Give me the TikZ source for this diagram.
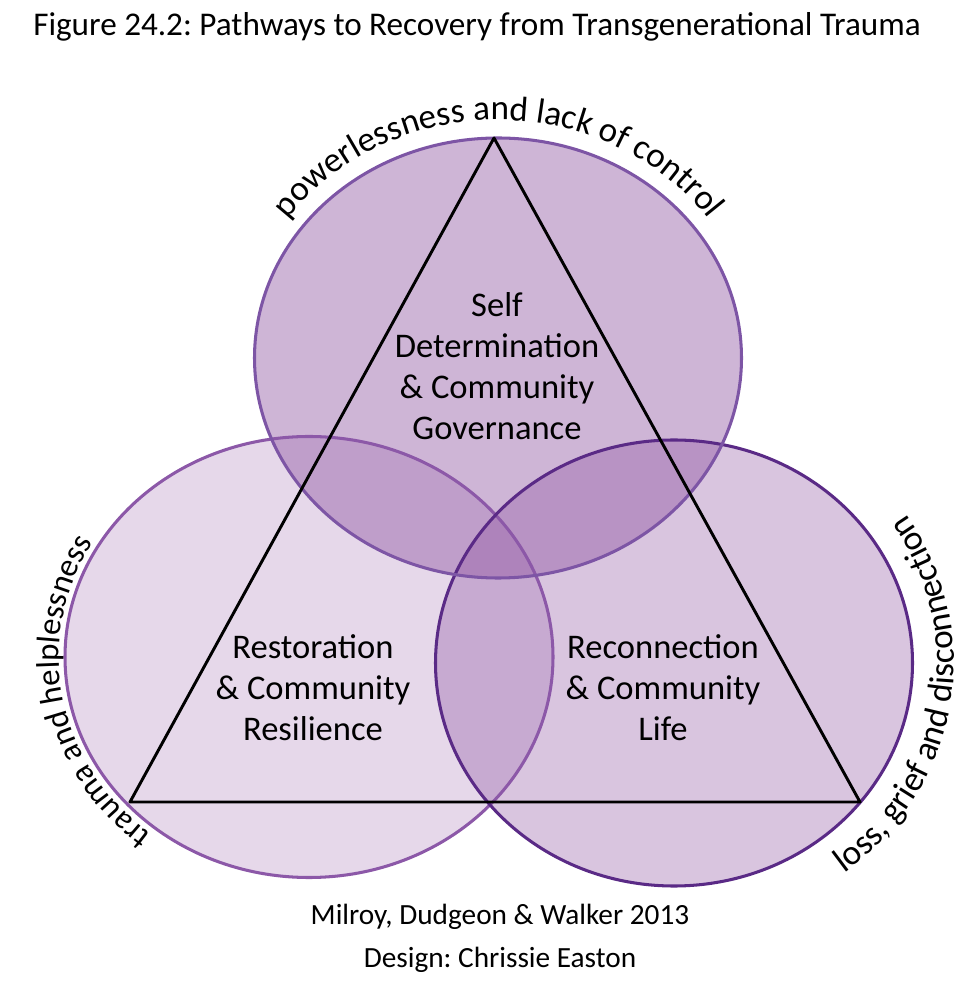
\documentclass[tikz,border=0pt]{standalone}
\usepackage{fontspec}
\setmainfont{Carlito}
\usepackage{tikz}
\usetikzlibrary{positioning}
\usetikzlibrary{decorations.text}
\definecolor{pr-fill}{HTML}{8B4E9E}
\definecolor{pr-top}{HTML}{7D55A5}
\definecolor{pr-left}{HTML}{8C58A8}
\definecolor{pr-right}{HTML}{5A2A86}
\newcommand{\bodyfont}{\fontsize{29.5}{35}\selectfont}
\newcommand{\arcfont}{\fontsize{30}{32}\selectfont}
\newcommand{\sidefont}{\fontsize{28}{30}\selectfont}
\frenchspacing

\begin{document}
\begin{tikzpicture}[x=0.3mm, y=0.3mm, line join=round]
    \useasboundingbox (0,0) rectangle (965,998);

    % Title
    \node[font=\fontsize{28.3}{32}\selectfont] (title) at (477, 971) {Figure 24.2: Pathways to Recovery from Transgenerational Trauma};

    % Ellipse fills (left, right, top)
    \foreach \cx/\cy/\rx/\ry/\op in {309/341/244/220.5/0.22, 674/335/238.5/223/0.33, 498/640/243.5/220/0.42} {
        \fill[pr-fill, fill opacity=\op] (\cx,\cy) ellipse [x radius=\rx, y radius=\ry];
    }

    % Ellipse borders
    \foreach \cx/\cy/\rx/\ry/\col in {309/341/244/220.5/pr-left, 674/335/238.5/223/pr-right, 498/640/243.5/220/pr-top} {
        \draw[\col, line width=2.6pt] (\cx,\cy) ellipse [x radius=\rx, y radius=\ry];
    }

    % Triangle
    \coordinate (apex) at (494, 860);
    \coordinate (bl) at (130, 196);
    \coordinate (br) at (860, 196);
    \draw[black, line width=2.5pt] (apex) -- (br) -- (bl) -- cycle;

    % Inner labels
    \node[align=center, font=\bodyfont] (topText) at (497, 632) {Self\\Determination\\\& Community\\Governance};
    \node[align=center, font=\bodyfont] (leftText) at (313, 310) {Restoration\\\& Community\\Resilience};
    \node[align=center, font=\bodyfont] (rightText) at (663, 310) {Reconnection\\\& Community\\Life};

    % Curved labels
    \path[decorate, decoration={text along path, text align=center,
        text={|\arcfont|powerlessness and lack of control}}]
        (498,640) ++(177:259 and 238) arc[start angle=177, end angle=3, x radius=259, y radius=238];
    \path[decorate, decoration={text along path, text align=center,
        text={|\sidefont|trauma and helplessness}}]
        (309,341) ++(260:250 and 228.5) arc[start angle=260, end angle=120, x radius=250, y radius=228.5];
    \path[decorate, decoration={text along path, text align=center,
        text={|\arcfont|loss, grief and disconnection}}]
        (674,335) ++(-77:280 and 265) arc[start angle=-77, end angle=59, x radius=280, y radius=265];

    % Credits
    \node[font=\fontsize{25}{28}\selectfont] (credit) at (500, 81) {Milroy, Dudgeon \& Walker 2013};
    \node[font=\fontsize{25}{28}\selectfont, below=8pt of credit] (design) {Design: Chrissie Easton};
\end{tikzpicture}
\end{document}
